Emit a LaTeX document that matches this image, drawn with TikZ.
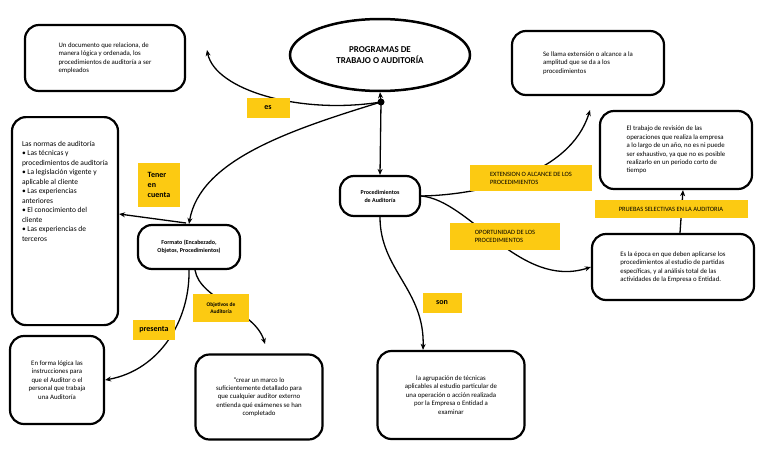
\documentclass[tikz,border=0pt]{standalone}
\usepackage{fontspec}
\setmainfont{Carlito}
\usetikzlibrary{shapes.geometric,arrows.meta}
\begin{document}
\begin{tikzpicture}[x=1pt,y=-1pt,
 card/.style={draw=black,line width=2.2pt,rounded corners=14pt,fill=white,align=center,font=\fontsize{6.8}{8.4}\selectfont,inner sep=3pt},
 tag/.style={fill=yellow!60!orange!95,align=left,font=\fontsize{6.5}{8}\selectfont,inner sep=3pt},
 btag/.style={tag,font=\bfseries\fontsize{8}{10}\selectfont},
 con/.style={line width=1.3pt,-{Stealth[length=6pt,width=5pt]}}]
\useasboundingbox (0,0) rectangle (768,466);
\node[ellipse,draw,line width=2.5pt,fill=white,minimum width=180,minimum height=72,align=center,font=\bfseries\fontsize{9}{11}\selectfont] (title) at (380,55) {PROGRAMAS DE\\TRABAJO O AUDITORÍA};
\fill (381,102) circle (3.5);
\coordinate (hub) at (381,102);
\node[card,minimum width=160,minimum height=66,align=left] (doc) at (105,58) {Un documento que relaciona, de\\manera lógica y ordenada, los\\procedimientos de auditoría a ser\\empleados};
\node[card,minimum width=152,minimum height=64,align=left] (ext) at (588,63) {Se llama extensión o alcance a la\\amplitud que se da a los\\procedimientos};
\node[card,minimum width=152,minimum height=78,align=left] (prueba) at (676,150) {El trabajo de revisión de las\\operaciones que realiza la empresa\\a lo largo de un año, no es ni puede\\ser exhaustivo, ya que no es posible\\realizarlo en un periodo corto de\\tiempo};
\node[card,minimum width=162,minimum height=66,align=left] (epoca) at (673,267) {Es la época en que deben aplicarse los\\procedimientos al estudio de partidas\\específicas, y al análisis total de las\\actividades de la Empresa o Entidad.};
\node[card,minimum width=106,minimum height=208,align=left,anchor=north,inner sep=2pt,font=\fontsize{7.5}{9.5}\selectfont] (normas) at (65,116) {\begin{minipage}[t]{86pt}\raggedright Las normas de auditoría\\• Las técnicas y procedimientos de auditoría\\• La legislación vigente y aplicable al cliente\\• Las experiencias anteriores\\• El conocimiento del cliente\\• Las experiencias de terceros\par\vspace{60pt}\end{minipage}};
\node[card,minimum width=80,minimum height=40,font=\bfseries\fontsize{6}{8}\selectfont] (proc) at (380,196) {Procedimientos\\de Auditoría};
\node[card,minimum width=102,minimum height=44,font=\bfseries\fontsize{6}{8}\selectfont] (formato) at (189,247) {Formato (Encabezado,\\Objetos, Procedimientos)};
\node[card,minimum width=94,minimum height=88] (forma) at (57,380) {En forma lógica las\\instrucciones para\\que el Auditor o el\\personal que trabaja\\una Auditoría};
\node[card,minimum width=127,minimum height=85] (marco) at (259,397) {“crear un marco lo\\suficientemente detallado para\\que cualquier auditor externo\\entienda qué exámenes se han\\completado};
\node[card,minimum width=147,minimum height=88] (agrup) at (451,395) {la agrupación de técnicas\\aplicables al estudio particular de\\una operación o acción realizada\\por la Empresa o Entidad a\\examinar};
% edges
\draw[con] (hub) -- (title.south);
\draw[con] (hub) -- (proc.north);
\draw[con] (hub) .. controls (300,115) and (215,90) .. (207,50);
\draw[con] (hub) .. controls (290,130) and (200,160) .. (formato.north);
\draw[con] (186,223) -- (normas.east |- 0,214);
\draw[con] (formato.south) .. controls (190,320) and (160,370) .. (forma.east);
\draw[con] (195,270) .. controls (200,300) and (255,310) .. (265,344);
\draw[con] (proc.east) .. controls (480,195) and (570,175) .. (590,110);
\draw[con] (proc.east) .. controls (470,200) and (520,290) .. (epoca.west);
\draw[con] (proc.south) .. controls (380,270) and (425,290) .. (agrup.north -| 423,0);
\draw[con] (epoca.north -| 680,0) -- (prueba.south -| 683,0);
% tags
\node[btag,minimum width=43,minimum height=20] (es) at (268,108) {es};
\node[btag,minimum width=42,minimum height=44] (tener) at (159,185) {Tener\\en\\cuenta};
\node[btag,minimum width=42,minimum height=20] (presenta) at (154,330) {presenta};
\node[btag,minimum width=39,minimum height=20] (son) at (442,303) {son};
\node[tag,minimum width=56,minimum height=28,align=center,font=\bfseries\fontsize{5.5}{7}\selectfont] (obj) at (221,308) {Objetivos de\\Auditoría};
\node[tag,minimum width=122,minimum height=26] (extt) at (531,178) {EXTENSION O ALCANCE DE LOS\\PROCEDIMIENTOS};
\node[tag,minimum width=110,minimum height=27] (oport) at (505,236) {OPORTUNIDAD DE LOS\\PROCEDIMIENTOS};
\node[tag,minimum width=153,minimum height=18,align=center] (pruebas) at (671,209) {PRUEBAS SELECTIVAS EN LA AUDITORIA};
\end{tikzpicture}
\end{document}
